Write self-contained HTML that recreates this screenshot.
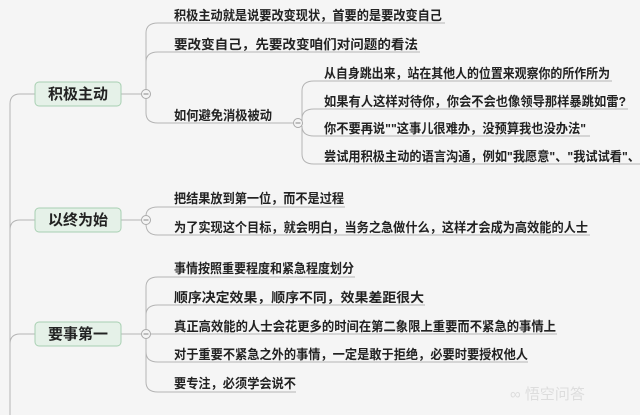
<!DOCTYPE html>
<html><head><meta charset="utf-8"><style>
html,body{margin:0;padding:0;background:#f4f4f4;}
svg{display:block;}
text{font-family:"Liberation Sans","Noto Sans CJK SC",sans-serif;font-size:13px;fill:#222;font-weight:bold;}
.m{font-size:15px;}
</style></head><body>
<svg width="640" height="415" viewBox="0 0 640 415">
<rect width="640" height="415" fill="#f5f5f5"/>
<g fill="none" stroke="#b5b5b5" stroke-width="1">
<path d="M10,415 L10,104 Q10,94 20,94 L35,94"/>
<path d="M10,230 Q10,220 20,220 L35,220"/>
<path d="M10,344 Q10,334 20,334 L35,334"/>
<path d="M121,94 L142,94 M121,220 L142,220 M121,334 L142,334"/>
<path d="M146,90 L146,33 Q146,23 158,23 L445,23"/>
<path d="M146,62 Q146,52 158,52 L420,52"/>
<path d="M146,98 L146,113 Q146,123 158,123 L294,123"/>
<path d="M302,123 L302,91 Q302,81 314,81 L612,81"/>
<path d="M302,119 Q302,109 314,109 L628,109"/>
<path d="M302,127 L302,126 Q302,136 314,136 L590,136"/>
<path d="M302,127 L302,154 Q302,164 314,164 L640,164"/>
<path d="M146,216 Q146,207 158,207 L345,207"/>
<path d="M146,224 Q146,235 158,235 L590,235"/>
<path d="M146,330 L146,287 Q146,277 158,277 L355,277"/>
<path d="M146,315 Q146,305 158,305 L425,305"/>
<path d="M150,334 L557,334"/>
<path d="M146,338 L146,352 Q146,362 158,362 L528,362"/>
<path d="M146,338 L146,382 Q146,392 158,392 L296,392"/>
</g>
<g fill="#f5f5f5" stroke="#aaa">
<circle cx="146" cy="94" r="4.5"/><circle cx="146" cy="220" r="4.5"/><circle cx="146" cy="334" r="4.5"/><circle cx="298" cy="123" r="4.5"/>
</g>
<g stroke="#888"><path d="M143.5,94h5M143.5,220h5M143.5,334h5M295.5,123h5"/></g>
<g fill="#e5f1e8" stroke="#a8d0b2">
<rect x="35" y="82" width="86" height="24" rx="4"/>
<rect x="35" y="208" width="86" height="24" rx="4"/>
<rect x="35" y="322" width="86" height="24" rx="4"/>
</g>
<text class="m" x="78" y="99" text-anchor="middle">积极主动</text>
<text class="m" x="78" y="225" text-anchor="middle">以终为始</text>
<text class="m" x="78" y="339" text-anchor="middle">要事第一</text>
<text x="174" y="20" textLength="268" lengthAdjust="spacingAndGlyphs">积极主动就是说要改变现状，首要的是要改变自己</text>
<text x="174" y="49" textLength="244" lengthAdjust="spacingAndGlyphs">要改变自己，先要改变咱们对问题的看法</text>
<text x="174" y="120" textLength="98" lengthAdjust="spacingAndGlyphs">如何避免消极被动</text>
<text x="324" y="78" textLength="286" lengthAdjust="spacingAndGlyphs">从自身跳出来，站在其他人的位置来观察你的所作所为</text>
<text x="324" y="106" textLength="302" lengthAdjust="spacingAndGlyphs">如果有人这样对待你，你会不会也像领导那样暴跳如雷?</text>
<text x="324" y="133" textLength="262" lengthAdjust="spacingAndGlyphs">你不要再说""这事儿很难办，没预算我也没办法"</text>
<text x="324" y="161" textLength="316" lengthAdjust="spacingAndGlyphs">尝试用积极主动的语言沟通，例如"我愿意"、"我试试看"、</text>
<text x="174" y="203" textLength="170" lengthAdjust="spacingAndGlyphs">把结果放到第一位，而不是过程</text>
<text x="174" y="232" textLength="414" lengthAdjust="spacingAndGlyphs">为了实现这个目标，就会明白，当务之急做什么，这样才会成为高效能的人士</text>
<text x="174" y="273" textLength="180" lengthAdjust="spacingAndGlyphs">事情按照重要程度和紧急程度划分</text>
<text x="174" y="302" textLength="250" lengthAdjust="spacingAndGlyphs">顺序决定效果，顺序不同，效果差距很大</text>
<text x="174" y="331" textLength="382" lengthAdjust="spacingAndGlyphs">真正高效能的人士会花更多的时间在第二象限上重要而不紧急的事情上</text>
<text x="174" y="359" textLength="354" lengthAdjust="spacingAndGlyphs">对于重要不紧急之外的事情，一定是敢于拒绝，必要时要授权他人</text>
<text x="174" y="388" textLength="122" lengthAdjust="spacingAndGlyphs">要专注，必须学会说不</text>
<text x="510" y="399" style="fill:#ddd;font-size:15px;font-weight:normal">∞ 悟空问答</text>
</svg>
</body></html>
